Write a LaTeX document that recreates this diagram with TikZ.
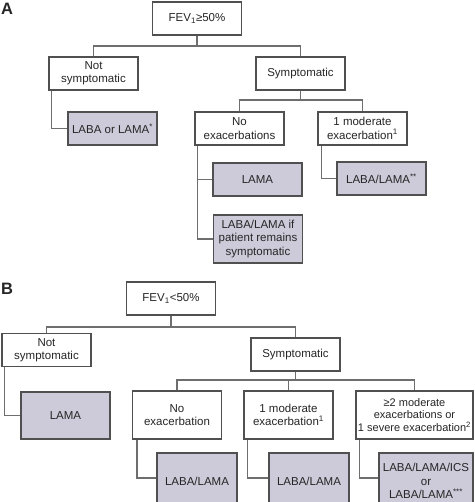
\documentclass[tikz,border=0pt]{standalone}
\usepackage{fontspec}
\setmainfont{Liberation Sans}
\definecolor{boxline}{HTML}{505050}
\definecolor{conn}{HTML}{6E6E6E}
\definecolor{grayfill}{HTML}{CDCAD9}
\begin{document}
\begin{tikzpicture}[x=1pt,y=-1pt,
  every node/.style={font=\fontsize{11.5}{13.3}\selectfont, text=black!85},
  wbox/.style={draw=boxline, line width=1.1pt, fill=white, rectangle, inner sep=0pt, align=center, minimum width=89pt, minimum height=33pt},
  gbox/.style={wbox, fill=grayfill},
  link/.style={draw=conn, line width=1.2pt},
  panel/.style={font=\fontsize{16.5}{18}\selectfont\bfseries, inner sep=0pt}]
\useasboundingbox (0,0) rectangle (474,502);
\clip (0,0) rectangle (474,502);
% Panel A
\node[panel] (labA) at (7,9) {A};
\node[wbox] (fevA) at (197,18.5) {FEV\textsubscript{1}≥50\%};
\node[wbox] (nsA) at (93.5,73.5) {Not\\symptomatic};
\node[wbox] (sA) at (300.5,73.5) {Symptomatic};
\node[gbox] (lbA) at (112.5,128.5) {LABA or LAMA\textsuperscript{*}};
\node[wbox] (neA) at (239.5,128.5) {No\\exacerbations};
\node[wbox] (meA) at (362.5,128.5) {1 moderate\\exacerbation\textsuperscript{1}};
\node[gbox] (lamaA) at (257.5,179.5) {LAMA};
\node[gbox] (llA) at (381.5,178.5) {LABA/LAMA\textsuperscript{**}};
\node[gbox, minimum height=48pt] (ifA) at (258,239) {LABA/LAMA if\\patient remains\\symptomatic};
\coordinate (hA1) at (0,46);
\coordinate (hA2) at (0,100);
\draw[link] (fevA.south) -- (fevA.south |- hA1);
\draw[link] (nsA.north) -- (nsA.north |- hA1) -- (sA.north |- hA1) -- (sA.north);
\draw[link] ([xshift=3pt]nsA.south west) |- (lbA.west);
\draw[link] (sA.south) -- (sA.south |- hA2);
\draw[link] (neA.north) -- (neA.north |- hA2) -- (meA.north |- hA2) -- (meA.north);
\draw[link] ([xshift=3pt]neA.south west) |- (ifA.west);
\draw[link] ([xshift=3pt]neA.south west) |- (lamaA.west);
\draw[link] ([xshift=4pt]meA.south west) |- (llA.west);
% Panel B
\node[panel] (labB) at (7,288.5) {B};
\node[wbox] (fevB) at (171,298.5) {FEV\textsubscript{1}<50\%};
\node[wbox] (nsB) at (46.5,350) {Not\\symptomatic};
\node[wbox] (sB) at (295.5,354.5) {Symptomatic};
\node[gbox, minimum height=47pt] (lamaB) at (65.5,415.5) {LAMA};
\node[wbox, minimum height=48pt] (neB) at (177,415) {No\\exacerbation};
\node[wbox, minimum height=48pt] (meB) at (288.5,415) {1 moderate\\exacerbation\textsuperscript{1}};
\node[wbox, minimum height=48pt, minimum width=117pt, font=\fontsize{11}{12.8}\selectfont] (seB) at (414.5,415) {≥2 moderate\\exacerbations or\\1 severe exacerbation\textsuperscript{2}};
\node[gbox, minimum width=80pt, minimum height=56pt] (llB1) at (197,481) {LABA/LAMA};
\node[gbox, minimum width=80pt, minimum height=56pt] (llB2) at (309,481) {LABA/LAMA};
\node[gbox, minimum width=94pt, minimum height=56pt] (llB3) at (426,481) {LABA/LAMA/ICS\\or\\LABA/LAMA\textsuperscript{***}};
\coordinate (hB1) at (0,327);
\coordinate (hB2) at (0,380);
\coordinate (hB3) at (0,478);
\draw[link] (fevB.south) -- (fevB.south |- hB1);
\draw[link] (nsB.north) -- (nsB.north |- hB1) -- (sB.north |- hB1) -- (sB.north);
\draw[link] ([xshift=3pt]nsB.south west) |- (lamaB.west);
\draw[link] (sB.south) -- (sB.south |- hB2);
\draw[link] (neB.north) -- (neB.north |- hB2) -- (seB.north |- hB2) -- (seB.north);
\draw[link] (meB.north) -- (meB.north |- hB2);
\draw[link] ([xshift=5pt]neB.south west) |- (llB1.west |- hB3);
\draw[link] ([xshift=4pt]meB.south west) |- (llB2.west |- hB3);
\draw[link] ([xshift=4pt]seB.south west) |- (llB3.west |- hB3);
\end{tikzpicture}
\end{document}
